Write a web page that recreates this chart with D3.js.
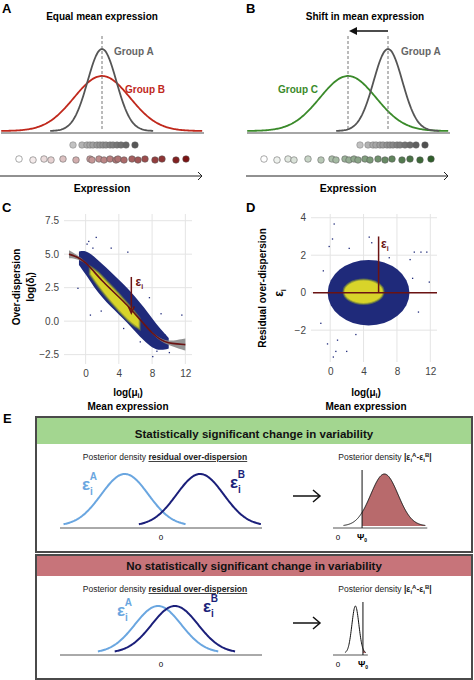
<!DOCTYPE html>
<html lang="en">
<head>
<meta charset="UTF-8">
<title>Variability figure</title>
<script src="https://d3js.org/d3.v7.min.js"></script>
<style>
  body { margin: 0; background: #fff; }
  svg { display: block; font-family: Arial, "Liberation Sans", sans-serif; }
  .panel { font-weight: bold; font-size: 13px; }
  .title { font-weight: bold; font-size: 10px; text-anchor: middle; }
  .tick text { font-size: 10px; fill: #444; }
  .grid line { stroke: #e4e4e4; }
</style>
</head>
<body>
<svg id="fig" width="474" height="680"></svg>
<script>
// ---- panels A/B: curves (mean, sd, peak height in px) ----
const curvesA = [
  {name: "Group B", mean: 0, sd: 1.4, peak: 55, color: "#c0281c"},
  {name: "Group A", mean: 0, sd: 0.72, peak: 82, color: "#555"}
];
const curvesB = [
  {name: "Group C", mean: 0, sd: 1.4, peak: 55, color: "#3a8a2a"},
  {name: "Group A", mean: 2, sd: 0.72, peak: 82, color: "#555"}
];
// dots (x in units, row 1 = group A, row 2 = other group)
const dotsA1 = [-1.45,-1,-0.75,-0.6,-0.45,-0.25,-0.1,0.05,0.2,0.4,0.55,0.75,0.95,1.2,1.65];
const dotsA2 = [-4.15,-3.45,-2.9,-2.55,-1.95,-1.3,-0.6,-0.5,-0.15,0.1,0.4,0.7,0.8,1.1,1.5,1.8,2.15,2.65,3,3.7,4.2];
const dotsB1 = [0.6,1,1.25,1.4,1.6,1.75,1.95,2.1,2.25,2.45,2.6,2.85,3.1,3.4,3.85];
const dotsB2 = [-4.2,-3.55,-3,-2.7,-2,-1.35,-0.8,-0.6,-0.15,0.05,0.3,0.5,0.85,1.1,1.5,1.85,2.2,2.7,3.1,3.6,4.15];

// ---- panel C: density bands along the trend ----
const cX = [-0.8, 0, 1, 2, 3, 4, 5, 6, 7, 8, 9, 10];
const cFit = [4.7, 4.4, 3.7, 3.0, 2.4, 1.8, 1.2, 0.5, -0.2, -0.9, -1.4, -1.65];
const cBlue = [0.5, 0.9, 1.15, 1.25, 1.3, 1.3, 1.3, 1.3, 1.25, 1.1, 0.8, 0.4];
const cYellowX = [0.5, 1.5, 2.5, 3.5, 4.5, 5.5, 6.5];
const cYellowLo = [3.5, 2.6, 1.8, 1.1, 0.4, -0.2, -0.6];
const cYellowHi = [4.1, 3.7, 3.0, 2.4, 1.7, 1.0, 0.2];
const trendX = [-2, -1, 0, 1, 2, 3, 4, 5, 6, 7, 8, 9, 10, 11, 12];
const trendY = [5.0, 4.8, 4.4, 3.7, 3.0, 2.4, 1.8, 1.2, 0.5, -0.2, -0.9, -1.4, -1.65, -1.7, -1.75];
const trendSE = [0.3, 0.15, 0.05, 0.03, 0.03, 0.03, 0.03, 0.03, 0.03, 0.03, 0.05, 0.1, 0.15, 0.3, 0.45];
const cOut = [[0.3,6.0],[1.2,6.3],[0.1,5.8],[5,5.2],[3,5.5],[9.5,-1],[11.5,0.5],[10,-2.3],[8,-2.6],[0.5,0.5],[-1,2.5],[2,2.8],[9,0.6],[7.6,1.8],[0.8,5.5],[-0.5,5.2],[6.5,-1.5],[8.5,-2.2],[1.8,0.8],[4.5,-0.5]];

// ---- panel D: residual cloud ----
const dBlue = {cx: 4.6, cy: 0, rx: 4.9, ry: 1.75};
const dYellow = {cx: 4.0, cy: 0.05, rx: 2.4, ry: 0.65};
const dOut = [[0.4,3.7],[0.2,2.9],[-0.2,2.5],[2.2,2.4],[4.6,3.0],[4.9,2.7],[10,2.2],[11.5,2.2],[10.8,2.2],[9.5,1.8],[11.8,0.6],[0.3,-3.4],[0.6,-3.1],[-0.4,-2.7],[1.9,-3.1],[-1.2,-1.6],[0.8,-2.5],[-0.9,1.2],[10.5,-1],[9.8,0.8],[3,-2.2],[7,1.9]];

// ---- panel E: posterior densities ----
const e1Left = [{mean: -0.86, sd: 0.56, color: "#6aa6e0"}, {mean: 0.93, sd: 0.56, color: "#1b1f7a"}];
const e2Left = [{mean: -0.07, sd: 0.55, color: "#6aa6e0"}, {mean: 0.33, sd: 0.55, color: "#1b1f7a"}];
const e1Right = {mean: 1.6, sd: 0.47, psi: 0.83};
const e2Right = {mean: 0.6, sd: 0.12, psi: 0.86};

const svg = d3.select("#fig");
const gauss = (x, m, s) => Math.exp(-0.5 * ((x - m) / s) ** 2);

function densityPanel(g, curves, dots1, dots2, endCol, xOff, labels) {
  const x = d3.scaleLinear().domain([-5, 5]).range([xOff + 2, xOff + 202]);
  const base = 131;
  curves.forEach(c => {
    const xs = d3.range(c.mean - 3.6 * c.sd, c.mean + 3.6 * c.sd + 0.001, 0.05);
    g.append("path")
      .attr("d", d3.line().x(v => x(v)).y(v => base - c.peak * gauss(v, c.mean, c.sd))(xs))
      .attr("fill", "none").attr("stroke", c.color).attr("stroke-width", 1.8);
  });
  g.append("line").attr("x1", xOff + 1).attr("x2", xOff + 204).attr("y1", base + 2).attr("y2", base + 2)
    .attr("stroke", "#888").attr("stroke-width", 1.5);
  const means = Array.from(new Set(curves.map(c => c.mean)));
  means.forEach(m => g.append("line").attr("x1", x(m)).attr("x2", x(m)).attr("y1", 36).attr("y2", base)
    .attr("stroke", "#777").attr("stroke-dasharray", "3,2"));
  const ref = curves[curves.length - 1].mean;
  const gray = d3.scaleLinear().domain([ref - 1.5, ref + 1.7]).range(["#c4c4c4", "#555"]);
  dots1.forEach(v => g.append("circle").attr("cx", x(v)).attr("cy", 145).attr("r", 3.3)
    .attr("fill", gray(v)).attr("stroke", "#666").attr("stroke-width", 0.4));
  const ext = d3.extent(dots2);
  const col = d3.scaleLinear().domain(ext).range(["#ffffff", endCol]);
  dots2.forEach((v, i) => g.append("circle").attr("cx", x(v)).attr("cy", 159 + (i % 2 ? 1 : 0)).attr("r", 3.3)
    .attr("fill", col(v)).attr("stroke", "#555").attr("stroke-width", 0.5));
  g.append("line").attr("x1", xOff).attr("x2", xOff + 202).attr("y1", 176).attr("y2", 176).attr("stroke", "#222");
  g.append("path").attr("d", `M${xOff + 198},172 L${xOff + 202},176 L${xOff + 198},180`).attr("fill", "none").attr("stroke", "#222");
  g.append("text").attr("x", xOff + 102).attr("y", 192).attr("class", "title").style("font-size", "10.5px").text("Expression");
  labels.forEach(l => g.append("text").attr("x", l.x).attr("y", l.y).attr("fill", l.color)
    .attr("font-size", 10).attr("font-weight", "bold").text(l.t));
  return x;
}

// Panel A
const gA = svg.append("g");
gA.append("text").attr("class", "panel").attr("x", 2).attr("y", 13).text("A");
gA.append("text").attr("class", "title").attr("x", 102).attr("y", 20).text("Equal mean expression");
densityPanel(gA, curvesA, dotsA1, dotsA2, "#7a1212", 0,
  [{t: "Group A", x: 114, y: 55, color: "#666"}, {t: "Group B", x: 125, y: 93, color: "#c0281c"}]);

// Panel B
const gB = svg.append("g");
gB.append("text").attr("class", "panel").attr("x", 246).attr("y", 13).text("B");
gB.append("text").attr("class", "title").attr("x", 365).attr("y", 20).text("Shift in mean expression");
const xB = densityPanel(gB, curvesB, dotsB1, dotsB2, "#2f5e2a", 246,
  [{t: "Group A", x: 401, y: 55, color: "#666"}, {t: "Group C", x: 278, y: 93, color: "#3a8a2a"}]);
gB.append("line").attr("x1", xB(curvesB[1].mean)).attr("x2", xB(curvesB[0].mean) + 6).attr("y1", 31).attr("y2", 31).attr("stroke", "#111").attr("stroke-width", 1.5);
gB.append("path").attr("d", `M${xB(curvesB[0].mean) + 1},31 l8,-4 l0,8 z`).attr("fill", "#111");

// scatter helper
function axesFrame(g, x, y, xt, yt, yFmt) {
  g.append("g").attr("class", "grid").selectAll("line.v").data(xt).join("line")
    .attr("x1", x).attr("x2", x).attr("y1", y.range()[0]).attr("y2", y.range()[1]);
  g.append("g").attr("class", "grid").selectAll("line.h").data(yt).join("line")
    .attr("y1", y).attr("y2", y).attr("x1", x.range()[0]).attr("x2", x.range()[1]);
  g.append("g").attr("transform", `translate(0,${y.range()[0]})`)
    .call(d3.axisBottom(x).tickValues(xt).tickSize(0).tickPadding(6))
    .call(a => a.select(".domain").remove());
  g.append("g").attr("transform", `translate(${x.range()[0]},0)`)
    .call(d3.axisLeft(y).tickValues(yt).tickSize(0).tickPadding(5).tickFormat(yFmt))
    .call(a => a.select(".domain").remove());
}

// Panel C
const gC = svg.append("g");
gC.append("text").attr("class", "panel").attr("x", 2).attr("y", 212).text("C");
const xC = d3.scaleLinear().domain([-2.6, 12.8]).range([64, 192]);
const yC = d3.scaleLinear().domain([-3.2, 8]).range([364, 214]);
axesFrame(gC, xC, yC, [0, 4, 8, 12], [-2.5, 0, 2.5, 5, 7.5], d => d.toFixed(1).replace("-", "\u2212"));
const bandC = d3.area().curve(d3.curveBasis).x((d, i) => xC(cX[i]))
  .y0((d, i) => yC(cFit[i] - cBlue[i])).y1((d, i) => yC(cFit[i] + cBlue[i]));
gC.append("path").attr("d", bandC(cX)).attr("fill", "#1f2a7a");
gC.selectAll("rect.o").data(cOut).join("rect").attr("x", d => xC(d[0])).attr("y", d => yC(d[1])).attr("width", 1.3).attr("height", 1.3).attr("fill", "#1f2a7a");
const coreC = d3.area().curve(d3.curveBasis).x((d, i) => xC(cYellowX[i]))
  .y0((d, i) => yC(cYellowLo[i])).y1((d, i) => yC(cYellowHi[i]));
gC.append("path").attr("d", coreC(cYellowX)).attr("fill", "#d8d42a").attr("stroke", "#7c8a3a").attr("stroke-width", 2).attr("stroke-opacity", 0.6);
gC.append("path").attr("d", d3.area().curve(d3.curveBasis).x((d, i) => xC(trendX[i]))
  .y0((d, i) => yC(trendY[i] - trendSE[i])).y1((d, i) => yC(trendY[i] + trendSE[i]))(trendX)).attr("fill", "#888").attr("opacity", 0.9);
gC.append("path").attr("d", d3.line().curve(d3.curveBasis).x((d, i) => xC(trendX[i])).y((d, i) => yC(trendY[i]))(trendX))
  .attr("fill", "none").attr("stroke", "#6b1313").attr("stroke-width", 1.6);
gC.append("line").attr("x1", xC(5.5)).attr("x2", xC(5.5)).attr("y1", yC(3.3)).attr("y2", yC(0.9)).attr("stroke", "#6b1313").attr("stroke-width", 1.5);
gC.append("path").attr("d", `M${xC(5.5) - 3},${yC(1.1)} L${xC(5.5)},${yC(0.6)} L${xC(5.5) + 3},${yC(1.1)}`).attr("fill", "none").attr("stroke", "#6b1313").attr("stroke-width", 1.5);
gC.append("text").attr("x", xC(6)).attr("y", yC(2.6)).attr("fill", "#6b1313").attr("font-size", 12).attr("font-weight", "bold").html("ε<tspan font-size='7' dy='3'>i</tspan>");
gC.append("text").attr("class", "title").attr("x", 128).attr("y", 396).html("log(μ<tspan font-size='7' dy='2'>i</tspan><tspan dy='-2'>)</tspan>");
gC.append("text").attr("class", "title").attr("x", 128).attr("y", 410).text("Mean expression");
gC.append("text").attr("class", "title").attr("transform", "translate(20,287) rotate(-90)").text("Over-dispersion");
gC.append("text").attr("class", "title").attr("transform", "translate(34,287) rotate(-90)").html("log(δ<tspan font-size='7' dy='2'>i</tspan><tspan dy='-2'>)</tspan>");

// Panel D
const gD = svg.append("g");
gD.append("text").attr("class", "panel").attr("x", 246).attr("y", 212).text("D");
const xD = d3.scaleLinear().domain([-2.3, 12.8]).range([311, 437]);
const yD = d3.scaleLinear().domain([-3.7, 4.2]).range([362, 214]);
axesFrame(gD, xD, yD, [0, 4, 8, 12], [-2, 0, 2, 4], d => String(d).replace("-", "\u2212"));
gD.append("ellipse").attr("cx", xD(dBlue.cx)).attr("cy", yD(dBlue.cy)).attr("rx", xD(dBlue.rx) - xD(0)).attr("ry", yD(0) - yD(dBlue.ry)).attr("fill", "#1f2a7a");
gD.selectAll("rect.o").data(dOut).join("rect").attr("x", d => xD(d[0])).attr("y", d => yD(d[1])).attr("width", 1.3).attr("height", 1.3).attr("fill", "#1f2a7a");
gD.append("ellipse").attr("cx", xD(dYellow.cx)).attr("cy", yD(dYellow.cy)).attr("rx", xD(dYellow.rx) - xD(0)).attr("ry", yD(0) - yD(dYellow.ry)).attr("fill", "#d8d42a").attr("stroke", "#7c8a3a").attr("stroke-width", 2).attr("stroke-opacity", 0.6);
gD.append("line").attr("x1", 313).attr("x2", 437).attr("y1", yD(0)).attr("y2", yD(0)).attr("stroke", "#6b1313").attr("stroke-width", 1.6);
gD.append("line").attr("x1", xD(5.8)).attr("x2", xD(5.8)).attr("y1", yD(3)).attr("y2", yD(0)).attr("stroke", "#6b1313").attr("stroke-width", 1.5);
gD.append("text").attr("x", xD(6.1)).attr("y", yD(2.4)).attr("fill", "#6b1313").attr("font-size", 12).attr("font-weight", "bold").html("ε<tspan font-size='7' dy='3'>i</tspan>");
gD.append("text").attr("class", "title").attr("x", 366).attr("y", 396).html("log(μ<tspan font-size='7' dy='2'>i</tspan><tspan dy='-2'>)</tspan>");
gD.append("text").attr("class", "title").attr("x", 366).attr("y", 410).text("Mean expression");
gD.append("text").attr("class", "title").attr("transform", "translate(266,288) rotate(-90)").text("Residual over-dispersion");
gD.append("text").attr("class", "title").style("font-size", "12px").attr("transform", "translate(283,293) rotate(-90)").html("ε<tspan font-size='7' dy='3'>i</tspan>");

// Panel E
const gE = svg.append("g");
gE.append("text").attr("class", "panel").attr("x", 3).attr("y", 423).text("E");

function eBox(top, h, headH, headCol, title, left, right, lab) {
  const g = gE.append("g");
  g.append("rect").attr("x", 36).attr("y", top).attr("width", 436).attr("height", headH).attr("fill", headCol);
  g.append("rect").attr("x", 36).attr("y", top).attr("width", 436).attr("height", h).attr("fill", "none").attr("stroke", "#4a4a4a").attr("stroke-width", 2);
  g.append("text").attr("x", 254).attr("y", top + headH - 6).attr("text-anchor", "middle").attr("font-size", 11.5).attr("font-weight", "bold").attr("fill", "#111").text(title);
  const sub = top + headH + 16;
  const t = g.append("text").attr("x", 165).attr("y", sub).attr("text-anchor", "middle").attr("font-size", 8.5).attr("fill", "#222");
  t.append("tspan").text("Posterior density ");
  t.append("tspan").attr("font-weight", "bold").attr("text-decoration", "underline").text("residual over-dispersion");
  g.append("text").attr("x", 385).attr("y", sub).attr("text-anchor", "middle").attr("font-size", 8.5).attr("fill", "#222")
    .html("Posterior density <tspan font-weight='bold'>|ε<tspan font-size='6' dy='2'>i</tspan><tspan font-size='6' dy='-5'>A</tspan><tspan dy='3'>-ε</tspan><tspan font-size='6' dy='2'>i</tspan><tspan font-size='6' dy='-5'>B</tspan><tspan dy='3'>|</tspan></tspan>");
  const base = top + h - 26;
  const x = d3.scaleLinear().domain([-2.4, 2.4]).range([60, 262]);
  const peakY = sub + 14;
  left.forEach(c => {
    const xs = d3.range(c.mean - 2.6 * c.sd, c.mean + 2.6 * c.sd + 0.001, 0.02);
    g.append("path").attr("d", d3.line().x(v => x(v)).y(v => base - (base - peakY) * gauss(v, c.mean, c.sd))(xs))
      .attr("fill", "none").attr("stroke", c.color).attr("stroke-width", 2);
  });
  g.append("line").attr("x1", 60).attr("x2", 262).attr("y1", base + 2).attr("y2", base + 2).attr("stroke", "#555");
  g.append("text").attr("x", x(0)).attr("y", base + 14).attr("text-anchor", "middle").attr("font-size", 8).text("0");
  lab.forEach((l, i) => g.append("text").attr("x", l[0]).attr("y", l[1]).attr("fill", left[i].color).attr("font-size", 17).attr("font-weight", "bold")
    .html(`ε<tspan font-size='10' dy='5'>i</tspan><tspan font-size='10' dx='-3' dy='-15'>${i ? "B" : "A"}</tspan>`));
  const ay = base - 30;
  g.append("line").attr("x1", 293).attr("x2", 320).attr("y1", ay).attr("y2", ay).attr("stroke", "#111").attr("stroke-width", 1.5);
  g.append("path").attr("d", `M${313},${ay - 6} L320,${ay} L313,${ay + 6}`).attr("fill", "none").attr("stroke", "#111").attr("stroke-width", 1.5);
  // right density
  const xr = d3.scaleLinear().domain([0, 3]).range([338, 425]);
  const xs = d3.range(Math.max(0.1, right.mean - 3 * right.sd), right.mean + 3 * right.sd + 0.001, 0.01);
  const yr = v => base - (base - peakY) * gauss(v, right.mean, right.sd);
  g.append("path").attr("d", d3.area().x(v => xr(v)).y0(base).y1(yr)(xs.filter(v => v >= right.psi)))
    .attr("fill", "#b86a6c");
  g.append("path").attr("d", d3.line().x(v => xr(v)).y(yr)(xs)).attr("fill", "none").attr("stroke", "#111").attr("stroke-width", 1);
  g.append("line").attr("x1", 333).attr("x2", xr(right.mean + 3 * right.sd) + 2).attr("y1", base + 2).attr("y2", base + 2).attr("stroke", "#555");
  g.append("line").attr("x1", xr(right.psi)).attr("x2", xr(right.psi)).attr("y1", peakY - 4).attr("y2", base + 2).attr("stroke", "#111");
  g.append("text").attr("x", xr(0)).attr("y", base + 14).attr("text-anchor", "middle").attr("font-size", 8).text("0");
  g.append("text").attr("x", xr(right.psi)).attr("y", base + 14).attr("text-anchor", "middle").attr("font-size", 9).attr("font-weight", "bold")
    .html("Ψ<tspan font-size='5' dy='2'>0</tspan>");
}
eBox(417, 135, 27, "#a3d690", "Statistically significant change in variability", e1Left, e1Right, [[82, 490], [230, 488]]);
eBox(555, 124, 21, "#c7747a", "No statistically significant change in variability", e2Left, e2Right, [[117, 616], [203, 612]]);
</script>
</body>
</html>
